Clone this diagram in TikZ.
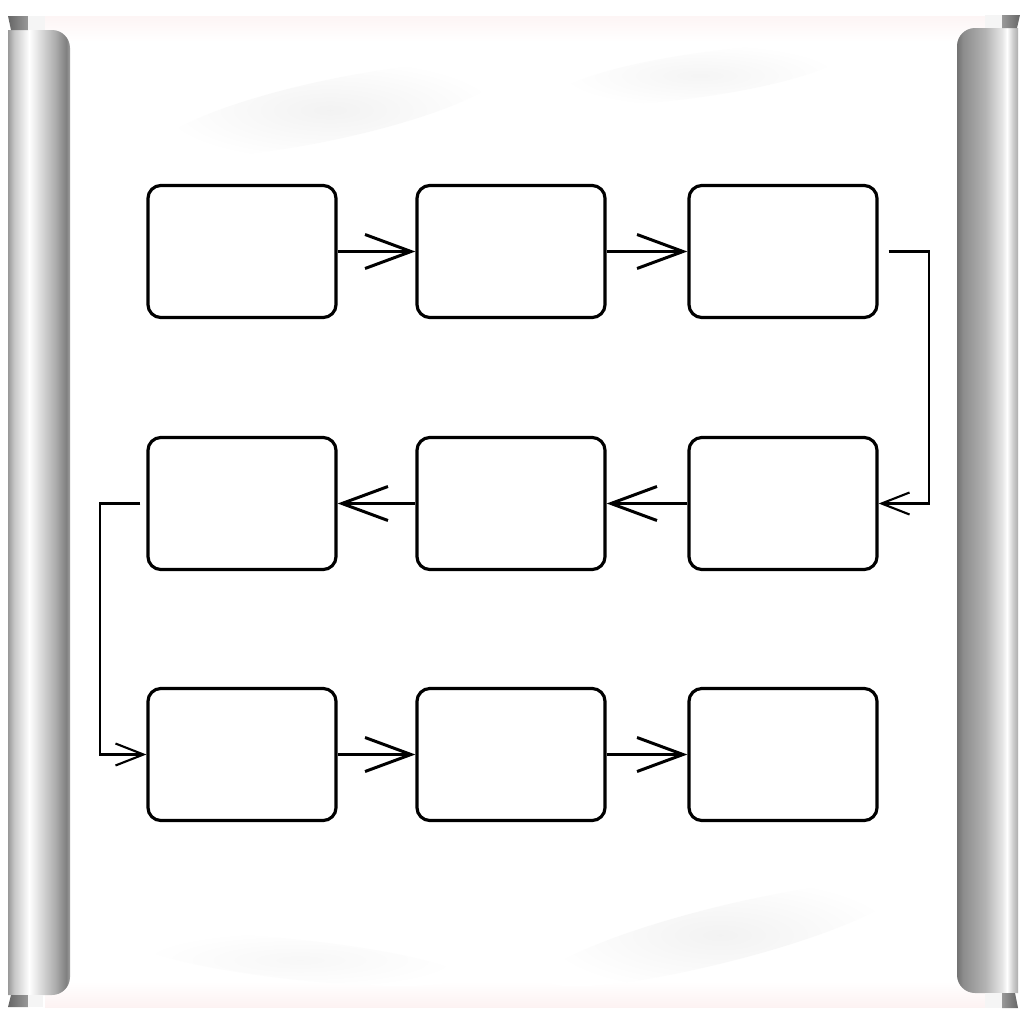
\documentclass[tikz,border=0pt]{standalone}
\usepackage{tikz}
\usetikzlibrary{arrows.meta}
\pgfdeclarehorizontalshading{rollerL}{100bp}{color(0bp)=(black!40); color(25bp)=(black!40); color(30bp)=(black!22); color(42bp)=(white); color(50bp)=(black!12); color(63bp)=(black!32); color(72bp)=(black!50); color(75bp)=(black!38); color(100bp)=(black!38)}
\pgfdeclarehorizontalshading{rollerR}{100bp}{color(0bp)=(black!55); color(25bp)=(black!55); color(30bp)=(black!45); color(48bp)=(black!30); color(62bp)=(black!10); color(66bp)=(white); color(71bp)=(black!20); color(75bp)=(black!32); color(100bp)=(black!32)}
\tikzset{
	stepbox/.style={draw, line width=0.9pt, rounded corners=0.13cm, minimum width=1.88cm, minimum height=1.32cm, inner sep=0pt},
	flowarrow/.style={line width=1.1pt, -{Straight Barb[length=4.6mm, width=3.4mm, line width=0.85pt]}},
	turnarrow/.style={line width=0.6pt, -{Straight Barb[length=2.8mm, width=2.2mm, line width=0.6pt]}}
}

\begin{document}
\begin{tikzpicture}[x=0.01cm, y=-0.01cm]
			%%%%% START %%%%%
			\useasboundingbox (0,0) rectangle (1024,1024);
			\fill[white] (0,0) rectangle (1024,1024);
			
			% sheet
			\shade[top color=black!22!red!4, bottom color=white] (45,16) rectangle (985,42);
			\shade[top color=white, bottom color=black!20!red!5] (45,982) rectangle (985,1007);
			\shade[inner color=black!5, outer color=white, rotate around={12:(330,110)}] (330,110) ellipse (170 and 30);
			\shade[inner color=black!4, outer color=white, rotate around={8:(700,75)}] (700,75) ellipse (140 and 22);
			\shade[inner color=black!5, outer color=white, rotate around={14:(720,935)}] (720,935) ellipse (180 and 28);
			\shade[inner color=black!3, outer color=white, rotate around={-6:(300,960)}] (300,960) ellipse (160 and 20);
			
			% left roller
			\shade[shading=rollerL] (8,30) -- (52,30) arc (-90:0:18) -- (70,977) arc (0:90:18) -- (8,995) -- cycle;
			\shade[left color=black!60, right color=black!40] (8,16) -- (28,16) -- (28,30) -- (11,30) -- cycle;
			\fill[black!4] (28,16) rectangle (45,30);
			\shade[left color=black!60, right color=black!40] (11,995) -- (28,995) -- (28,1007) -- (8,1007) -- cycle;
			\fill[black!4] (28,995) rectangle (43,1007);
			
			% right roller
			\shade[shading=rollerR] (1018,28) -- (975,28) arc (-90:-180:18) -- (957,975) arc (180:90:18) -- (1018,993) -- cycle;
			\fill[black!4] (985,15) rectangle (1002,28);
			\shade[left color=black!40, right color=black!60] (1002,15) -- (1020,15) -- (1017,28) -- (1002,28) -- cycle;
			\fill[black!4] (985,993) rectangle (1002,1008);
			\shade[left color=black!40, right color=black!60] (1002,993) -- (1015,993) -- (1018,1008) -- (1002,1008) -- cycle;
			
			% boxes
			\node[stepbox] (b11) at (242,251.5) {};
			\node[stepbox] (b12) at (511,251.5) {};
			\node[stepbox] (b13) at (783,251.5) {};
			
			\node[stepbox] (b21) at (242,503.5) {};
			\node[stepbox] (b22) at (511,503.5) {};
			\node[stepbox] (b23) at (783,503.5) {};
			
			\node[stepbox] (b31) at (242,754.5) {};
			\node[stepbox] (b32) at (511,754.5) {};
			\node[stepbox] (b33) at (783,754.5) {};
			
			% arrows
			\draw[flowarrow] (b11) -- (b12);
			\draw[flowarrow] (b12) -- (b13);
			\draw[turnarrow] ([xshift=1mm]b13.east) -- ++(40,0) |- (b23.east);
			\draw[flowarrow] (b23) -- (b22);
			\draw[flowarrow] (b22) -- (b21);
			\draw[turnarrow] ([xshift=-0.6mm]b21.west) -- ++(-40,0) |- (b31.west);
			\draw[flowarrow] (b31) -- (b32);
			\draw[flowarrow] (b32) -- (b33);
			
			%%%%% END %%%%%
\end{tikzpicture}
\end{document}
